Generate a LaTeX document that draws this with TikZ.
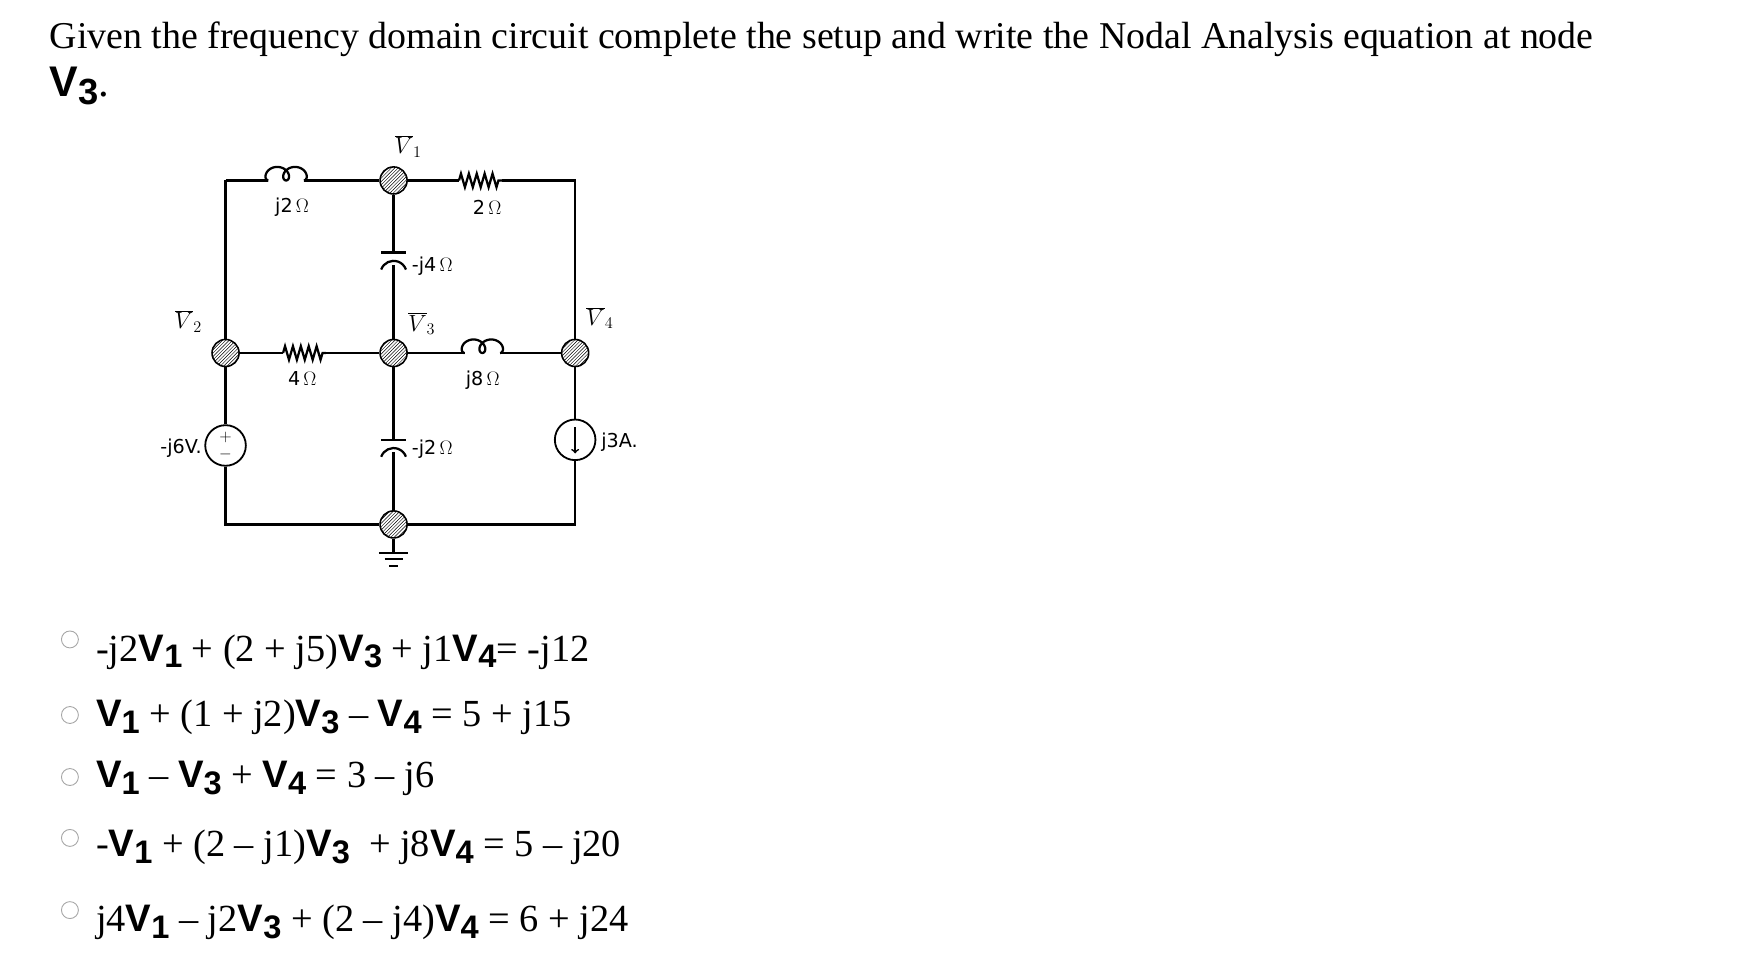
\documentclass[tikz,border=0pt]{standalone}
\usepackage{fontspec}
\setmainfont{Liberation Serif}
\newfontfamily\vf{Liberation Sans}
\newfontfamily\hf{DejaVu Sans}
\usetikzlibrary{decorations.pathmorphing,patterns}
\newcommand{\VV}[1]{{\vf\bfseries V\raisebox{-0.18em}{\scalebox{0.85}{#1}}}}
\begin{document}
\begin{tikzpicture}[x=1pt,y=-1pt,
  wire/.style={line width=2pt},
  nd/.style={circle,draw,line width=1.4pt,minimum size=24pt,inner sep=0,pattern=north east lines},
  lbl/.style={font=\hf\fontsize{17}{19}\selectfont,inner sep=1pt},
  opt/.style={circle,draw=gray!70,line width=0.8pt,minimum size=15pt,inner sep=0},
  txt/.style={anchor=west,font=\fontsize{34}{38}\selectfont,inner sep=0}]
\useasboundingbox (0,0) rectangle (1550,868);
\node[anchor=west,font=\fontsize{33.6}{38}\selectfont,inner sep=0] (title) at (44,35) {Given the frequency domain circuit complete the setup and write the Nodal Analysis equation at node};
\node[anchor=west,inner sep=0,font=\fontsize{38}{40}\selectfont] (t2) at (44,76) {\VV{3}.};
\coordinate (tl) at (200,160); \coordinate (tr) at (510,160);
\coordinate (bl) at (200,465); \coordinate (br) at (510,465);
\node[nd] (n1) at (349,160) {};
\node[nd] (n2) at (200,313) {};
\node[nd] (n3) at (349,313) {};
\node[nd] (n4) at (510,313) {};
\node[nd] (n0) at (349,465) {};
\node[circle,draw,line width=1.6pt,minimum size=36pt,inner sep=0] (vs) at (200,395) {};
\node[font=\fontsize{14}{14}\selectfont,inner sep=0] at (200,388) {$+$};
\node[font=\fontsize{14}{14}\selectfont,inner sep=0] at (200,403) {$-$};
\node[circle,draw,line width=1.6pt,minimum size=36pt,inner sep=0] (cs) at (510,390) {};
\draw[line width=1.5pt,->] (510,379) -- (510,402);
\coordinate (c1a) at (238,160); \coordinate (c1b) at (269.4,160);
\coordinate (c2a) at (412,313); \coordinate (c2b) at (443.4,313);
\draw[wire] (tl) -- (c1a);
\draw[wire] plot[domain=0:12.566,samples=80,smooth] ({238+2.5*\x-6*sin(\x r)},{160-6*(1-cos(\x r))});
\draw[wire] (c1b) -- (n1.west);
\draw[wire] (n1.east) -- (407,160);
\draw[wire,decorate,decoration={zigzag,amplitude=6pt,segment length=7pt}] (407,160) -- (445,160);
\draw[wire] (445,160) -- (tr) -- (n4.north);
\draw[wire] (tl) -- (n2.north);
\draw[wire] (n2.east) -- (251,313);
\draw[wire,decorate,decoration={zigzag,amplitude=6pt,segment length=7pt}] (251,313) -- (289,313);
\draw[wire] (289,313) -- (n3.west);
\draw[wire] (n3.east) -- (c2a);
\draw[wire] plot[domain=0:12.566,samples=80,smooth] ({412+2.5*\x-6*sin(\x r)},{313-6*(1-cos(\x r))});
\draw[wire] (c2b) -- (n4.west);
\draw[wire] (n1.south) -- (349,224);
\draw[wire] (338,224) -- (360,224);
\draw[wire] (338,239) arc[start angle=200,end angle=340,radius=11.7];
\draw[wire] (349,235) -- (n3.north);
\draw[wire] (n3.south) -- (349,390);
\draw[wire] (338,390) -- (360,390);
\draw[wire] (338,405) arc[start angle=200,end angle=340,radius=11.7];
\draw[wire] (349,401) -- (n0.north);
\draw[wire] (n2.south) -- (vs.north);
\draw[wire] (vs.south) -- (bl) -- (n0.west);
\draw[wire] (n4.south) -- (cs.north);
\draw[wire] (cs.south) -- (br) -- (n0.east);
\draw[wire] (n0.south) -- (349,490);
\draw[line width=1.6pt] (336,490) -- (362,490) (341,496) -- (357,496) (345,502) -- (353,502);
\node[lbl] at (259,184) {j2$\,\Omega$};
\node[lbl] at (432,184) {2$\,\Omega$};
\node[lbl,anchor=west] at (364,236) {-j4$\,\Omega$};
\node[lbl] at (268,336) {4$\,\Omega$};
\node[lbl] at (428,337) {j8$\,\Omega$};
\node[lbl,anchor=west] at (364,398) {-j2$\,\Omega$};
\node[lbl,anchor=east] at (180,397) {-j6V.};
\node[lbl,anchor=west] at (532,392) {j3A.};
\node[lbl,font=\hf\fontsize{22}{24}\selectfont] at (362,130) {$\overline{V}_1$};
\node[lbl,font=\hf\fontsize{22}{24}\selectfont] at (167,285) {$\overline{V}_2$};
\node[lbl,font=\hf\fontsize{22}{24}\selectfont] at (374,287) {$\overline{V}_3$};
\node[lbl,font=\hf\fontsize{22}{24}\selectfont] at (532,282) {$\overline{V}_4$};
\node[opt] (o1) at (62,567) {};
\node[opt] (o2) at (62,634) {};
\node[opt] (o3) at (62,689) {};
\node[opt] (o4) at (62,743) {};
\node[opt] (o5) at (62,807) {};
\node[txt] at (85,578) {-j2\VV{1} + (2 + j5)\VV{3} + j1\VV{4}= -j12};
\node[txt] at (85,636) {\VV{1} + (1 + j2)\VV{3} -- \VV{4} = 5 + j15};
\node[txt] at (85,690) {\VV{1} -- \VV{3} + \VV{4} = 3 -- j6};
\node[txt] at (85,751) {-\VV{1} + (2 -- j1)\VV{3} \ + j8\VV{4} = 5 -- j20};
\node[txt] at (85,818) {j4\VV{1} -- j2\VV{3} + (2 -- j4)\VV{4} = 6 + j24};
\end{tikzpicture}
\end{document}
